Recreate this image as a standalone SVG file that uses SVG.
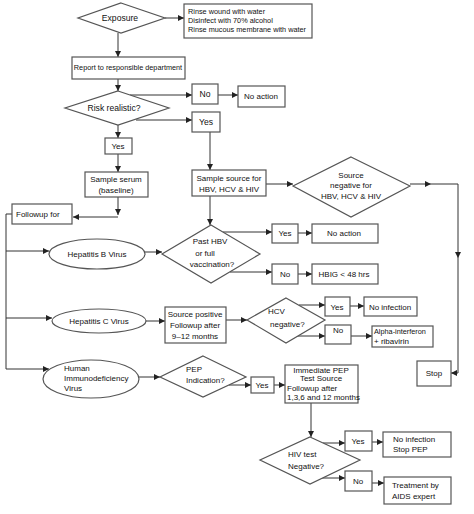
<svg xmlns="http://www.w3.org/2000/svg" width="474" height="514" viewBox="0 0 474 514">
<defs>
<marker id="ah" viewBox="0 0 10 10" refX="10" refY="5" markerWidth="6" markerHeight="6" orient="auto" markerUnits="userSpaceOnUse">
<path d="M0,0 L10,5 L0,10 z" fill="#222"/>
</marker>
</defs>
<style>
.b{fill:#fff;stroke:#555;stroke-width:1.2}
.t{font-family:"Liberation Sans",Arial,sans-serif;font-size:8px;fill:#111}
.s{font-size:7.3px}
.l{font-size:8.6px}
.c{stroke:#333;stroke-width:1;fill:none}
.a{stroke:#333;stroke-width:1;fill:none;marker-end:url(#ah)}
</style>
<rect width="474" height="514" fill="#fff"/>
<g id="connectors">
<line class="a" x1="165" y1="18" x2="184" y2="18"/>
<line class="a" x1="118" y1="33" x2="118" y2="57"/>
<line class="a" x1="118" y1="79" x2="118" y2="91"/>
<line class="a" x1="130" y1="95" x2="192" y2="95"/>
<line class="a" x1="218" y1="95" x2="238" y2="95"/>
<line class="a" x1="136" y1="120" x2="192" y2="120"/>
<line class="a" x1="118" y1="125" x2="118" y2="138"/>
<line class="a" x1="118" y1="154" x2="118" y2="172"/>
<line class="a" x1="118" y1="197" x2="118" y2="215"/>
<line class="a" x1="118" y1="217" x2="73" y2="217"/>
<path class="c" d="M12,214 H6 V369"/>
<line class="a" x1="6" y1="251" x2="49" y2="251"/>
<line class="a" x1="6" y1="318" x2="52" y2="318"/>
<line class="a" x1="6" y1="369" x2="49" y2="369"/>
<line class="a" x1="210" y1="132" x2="210" y2="170"/>
<line class="a" x1="266" y1="184" x2="293" y2="184"/>
<line class="a" x1="410" y1="184" x2="431" y2="184"/>
<line class="c" x1="431" y1="184" x2="458" y2="184"/>
<line class="a" x1="458" y1="184" x2="458" y2="258"/>
<line class="c" x1="458" y1="258" x2="458" y2="373"/>
<line class="a" x1="458" y1="373" x2="451" y2="373"/>
<line class="a" x1="210" y1="196" x2="210" y2="225"/>
<line class="a" x1="145" y1="252" x2="162" y2="252"/>
<line class="a" x1="223" y1="232" x2="272" y2="232"/>
<line class="a" x1="298" y1="233" x2="312" y2="233"/>
<line class="a" x1="230" y1="272" x2="272" y2="272"/>
<line class="a" x1="298" y1="274" x2="312" y2="274"/>
<line class="a" x1="146" y1="321" x2="165" y2="321"/>
<line class="a" x1="226" y1="320" x2="247" y2="320"/>
<line class="a" x1="299" y1="305" x2="325" y2="305"/>
<line class="a" x1="350" y1="306" x2="364" y2="306"/>
<line class="a" x1="297" y1="336" x2="325" y2="336"/>
<line class="a" x1="351" y1="336" x2="372" y2="336"/>
<line class="a" x1="139" y1="377" x2="160" y2="377"/>
<line class="a" x1="229" y1="385" x2="251" y2="385"/>
<line class="a" x1="274" y1="385" x2="285" y2="385"/>
<line class="a" x1="311" y1="403" x2="311" y2="437"/>
<line class="a" x1="323" y1="443" x2="345" y2="443"/>
<line class="a" x1="372" y1="442" x2="383" y2="442"/>
<line class="a" x1="321" y1="478" x2="345" y2="478"/>
<line class="a" x1="372" y1="483" x2="384" y2="483"/>
</g>
<g id="exposure"><polygon class="b" points="121,3 165,18 121,33 78,18"/><text class="t l" x="120" y="21" text-anchor="middle">Exposure</text></g>
<g id="rinse"><rect class="b" x="184" y="4" width="128" height="34"/><text class="t s" x="188" y="14">Rinse wound with water</text><text class="t s" x="188" y="23">Disinfect with 70% alcohol</text><text class="t s" x="188" y="32">Rinse mucous membrane with water</text></g>
<g id="report"><rect class="b" x="72" y="57" width="113" height="22"/><text class="t s" x="128" y="70" text-anchor="middle">Report to responsible department</text></g>
<g id="risk"><polygon class="b" points="118,91 169,108 118,125 65,108"/><text class="t l" x="114" y="111" text-anchor="middle">Risk realistic?</text></g>
<g id="no1"><rect class="b" x="192" y="84" width="26" height="20"/><text class="t l" x="205" y="97" text-anchor="middle">No</text></g>
<g id="noaction1"><rect class="b" x="238" y="86" width="47" height="21"/><text class="t" x="261" y="99" text-anchor="middle">No action</text></g>
<g id="yes1"><rect class="b" x="192" y="112" width="28" height="20"/><text class="t l" x="206" y="125" text-anchor="middle">Yes</text></g>
<g id="yes2"><rect class="b" x="105" y="138" width="27" height="16"/><text class="t" x="118" y="149" text-anchor="middle">Yes</text></g>
<g id="serum"><rect class="b" x="85" y="172" width="63" height="25"/><text class="t" x="116" y="182" text-anchor="middle">Sample serum</text><text class="t" x="116" y="193" text-anchor="middle">(baseline)</text></g>
<g id="followup"><rect class="b" x="12" y="204" width="60" height="20"/><text class="t" x="16" y="217">Followup for</text></g>
<g id="source"><rect class="b" x="192" y="170" width="74" height="26"/><text class="t" x="229" y="181" text-anchor="middle">Sample source for</text><text class="t" x="229" y="192" text-anchor="middle">HBV, HCV &amp; HIV</text></g>
<g id="srcneg"><polygon class="b" points="351,157 410,186 351,217 293,186"/><text class="t" x="351" y="178" text-anchor="middle">Source</text><text class="t" x="351" y="188" text-anchor="middle">negative for</text><text class="t" x="351" y="199" text-anchor="middle">HBV, HCV &amp; HIV</text></g>
<g id="stop"><rect class="b" x="417" y="361" width="34" height="25"/><text class="t" x="434" y="376" text-anchor="middle">Stop</text></g>
<g id="hbv"><ellipse class="b" cx="97" cy="254" rx="48" ry="15"/><text class="t" x="97" y="257" text-anchor="middle">Hepatitis B Virus</text></g>
<g id="pasthbv"><polygon class="b" points="211,225 260,254 211,283 162,254"/><text class="t" x="210" y="244" text-anchor="middle">Past HBV</text><text class="t" x="205" y="256" text-anchor="middle">or full</text><text class="t" x="212" y="267" text-anchor="middle">vaccination?</text></g>
<g id="yes3"><rect class="b" x="272" y="224" width="26" height="19"/><text class="t" x="285" y="236" text-anchor="middle">Yes</text></g>
<g id="noaction2"><rect class="b" x="312" y="224" width="66" height="19"/><text class="t" x="344" y="236" text-anchor="middle">No action</text></g>
<g id="no2"><rect class="b" x="272" y="264" width="26" height="20"/><text class="t" x="285" y="277" text-anchor="middle">No</text></g>
<g id="hbig"><rect class="b" x="312" y="264" width="66" height="20"/><text class="t" x="344" y="277" text-anchor="middle">HBIG &lt; 48 hrs</text></g>
<g id="hcv"><ellipse class="b" cx="99" cy="321" rx="47" ry="12"/><text class="t" x="99" y="324" text-anchor="middle">Hepatitis C Virus</text></g>
<g id="srcpos"><rect class="b" x="165" y="307" width="61" height="36"/><text class="t" x="195" y="317" text-anchor="middle">Source positive</text><text class="t" x="195" y="328" text-anchor="middle">Followup after</text><text class="t" x="195" y="339" text-anchor="middle">9–12 months</text></g>
<g id="hcvneg"><polygon class="b" points="286,298 325,320 286,343 247,320"/><text class="t" x="268" y="314">HCV</text><text class="t" x="270" y="327">negative?</text></g>
<g id="yes4"><rect class="b" x="325" y="297" width="25" height="19"/><text class="t" x="337" y="310" text-anchor="middle">Yes</text></g>
<g id="noinf1"><rect class="b" x="364" y="297" width="53" height="19"/><text class="t" x="390" y="310" text-anchor="middle">No infection</text></g>
<g id="no3"><rect class="b" x="325" y="325" width="26" height="19"/><text class="t" x="338" y="333" text-anchor="middle">No</text></g>
<g id="alpha"><rect class="b" x="372" y="326" width="61" height="21"/><text class="t s" x="374" y="334">Alpha-interferon</text><text class="t" x="374" y="344">+ ribavirin</text></g>
<g id="hiv"><ellipse class="b" cx="91" cy="379" rx="48" ry="19"/><text class="t" x="64" y="371">Human</text><text class="t" x="64" y="381">Immunodeficiency</text><text class="t" x="64" y="391">Virus</text></g>
<g id="pep"><polygon class="b" points="203,356 246,377 203,397 160,377"/><text class="t" x="186" y="372">PEP</text><text class="t" x="186" y="383">Indication?</text></g>
<g id="yes5"><rect class="b" x="251" y="377" width="23" height="16"/><text class="t" x="262" y="388" text-anchor="middle">Yes</text></g>
<g id="immpep"><rect class="b" x="285" y="365" width="73" height="38"/><text class="t" x="321" y="373" text-anchor="middle">Immediate PEP</text><text class="t" x="321" y="381" text-anchor="middle">Test Source</text><text class="t" x="287" y="391">Followup after</text><text class="t" x="287" y="400">1,3,6 and 12 months</text></g>
<g id="hivtest"><polygon class="b" points="310,437 360,460 310,484 260,460"/><text class="t" x="288" y="457">HIV test</text><text class="t" x="288" y="469">Negative?</text></g>
<g id="yes6"><rect class="b" x="345" y="431" width="27" height="20"/><text class="t" x="358" y="444" text-anchor="middle">Yes</text></g>
<g id="noinf2"><rect class="b" x="383" y="432" width="68" height="25"/><text class="t" x="393" y="442">No infection</text><text class="t" x="393" y="452">Stop PEP</text></g>
<g id="no4"><rect class="b" x="345" y="471" width="27" height="20"/><text class="t" x="358" y="484" text-anchor="middle">No</text></g>
<g id="treat"><rect class="b" x="384" y="477" width="67" height="27"/><text class="t" x="392" y="488">Treatment by</text><text class="t" x="392" y="499">AIDS expert</text></g>
</svg>
